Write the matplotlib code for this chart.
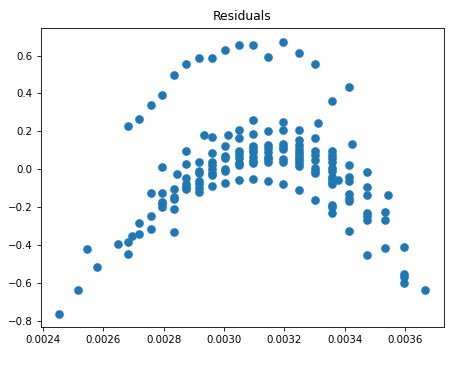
import matplotlib
matplotlib.use("Agg")
import matplotlib.pyplot as plt

# residuals grouped by x value
x_cols = [0.002453, 0.002515, 0.002547, 0.002579, 0.002648, 0.002683, 0.002694,
          0.002719, 0.002758, 0.002794, 0.002835, 0.002843, 0.002875, 0.002917,
          0.002933, 0.002960, 0.003004, 0.003013, 0.003050, 0.003097, 0.003146,
          0.003197, 0.003247, 0.003302, 0.003313, 0.003357, 0.003379, 0.003414,
          0.003423, 0.003474, 0.003535, 0.003543, 0.003598, 0.003666]
y_cols = [
    [-0.763],
    [-0.637],
    [-0.419],
    [-0.514],
    [-0.392],
    [0.226, -0.385, -0.449],
    [-0.350],
    [0.264, -0.282, -0.343],
    [0.337, -0.127, -0.248, -0.317],
    [0.394, 0.012, -0.124, -0.175, -0.185, -0.197],
    [0.495, -0.103, -0.148, -0.157, -0.208, -0.331],
    [-0.024],
    [0.553, 0.099, 0.029, -0.048, -0.080, -0.096, -0.104],
    [0.586, 0.040, -0.010, -0.022, -0.064, -0.078, -0.097, -0.120],
    [0.180],
    [0.589, 0.168, 0.084, 0.040, 0.022, 0.0, -0.022, -0.031, -0.090],
    [0.630, 0.124, 0.070, 0.059, 0.0, -0.008, -0.073],
    [0.180],
    [0.654, 0.208, 0.164, 0.094, 0.080, 0.059, 0.031, 0.024, -0.059],
    [0.658, 0.261, 0.185, 0.122, 0.108, 0.091, 0.066, 0.043, 0.034, -0.052],
    [0.591, 0.203, 0.127, 0.112, 0.089, 0.066, 0.052, 0.041, -0.060],
    [0.672, 0.252, 0.205, 0.133, 0.117, 0.105, 0.055, 0.038, -0.078],
    [0.611, 0.207, 0.154, 0.126, 0.108, 0.091, 0.075, 0.059, 0.048, 0.031, 0.015, -0.111],
    [0.553, 0.164, 0.094, 0.078, 0.047, 0.005, -0.010, -0.022, -0.162],
    [0.242],
    [0.361, 0.094, 0.078, 0.059, 0.041, 0.006, -0.010, -0.041, -0.052, -0.066,
     -0.080, -0.187, -0.197, -0.229],
    [-0.057],
    [0.435, 0.022, -0.039, -0.064, -0.132, -0.152, -0.169, -0.327],
    [0.135],
    [-0.013, -0.096, -0.136, -0.229, -0.247, -0.268, -0.452],
    [-0.268, -0.227, -0.417],
    [-0.136],
    [-0.408, -0.552, -0.570, -0.601],
    [-0.638],
]

x = [xc for xc, ys in zip(x_cols, y_cols) for _ in ys]
y = [v for ys in y_cols for v in ys]

plt.rcParams["font.size"] = 7.4
fig = plt.figure(figsize=(4.74, 3.67), dpi=100)
ax = fig.add_axes([0.087, 0.110, 0.849, 0.814])
ax.scatter(x, y, s=27, color="#1f77b4")
ax.set_title("Residuals", fontsize=8.9)
ax.set_xticks([0.0024, 0.0026, 0.0028, 0.0030, 0.0032, 0.0034, 0.0036])
ax.set_xticklabels(["0.0024", "0.0026", "0.0028", "0.0030", "0.0032", "0.0034", "0.0036"])
ax.set_yticks([0.6, 0.4, 0.2, 0.0, -0.2, -0.4, -0.6, -0.8])
ax.set_xlim(0.002394, 0.003728)
ax.set_ylim(-0.830, 0.746)
for s in ax.spines.values():
    s.set_linewidth(0.6)
ax.tick_params(width=0.6, length=2.6)
fig.savefig("out.png", dpi=100)
